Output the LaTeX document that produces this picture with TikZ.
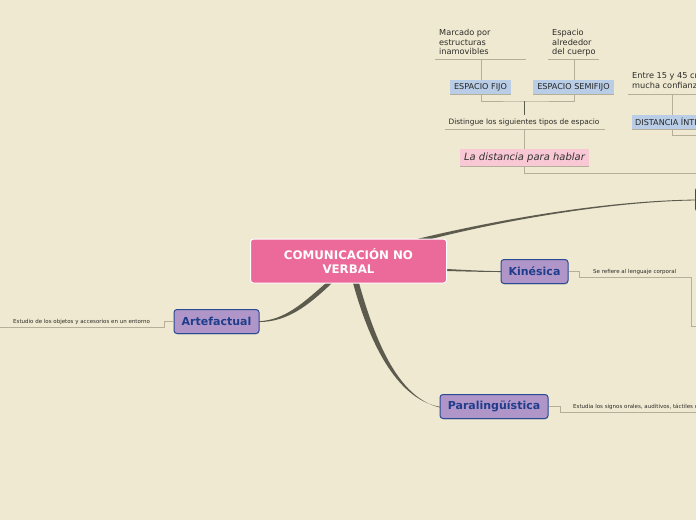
\documentclass[tikz,border=0pt]{standalone}
\usepackage{fontspec}
\setmainfont{DejaVu Sans}
\usetikzlibrary{shadows}
\definecolor{bgc}{HTML}{EFE9D1}
\definecolor{mainc}{HTML}{EB6A99}
\definecolor{topicc}{HTML}{B096C8}
\definecolor{topicb}{HTML}{2A4A96}
\definecolor{topict}{HTML}{1F3D8C}
\definecolor{linkc}{HTML}{5C5B4E}
\definecolor{thinc}{HTML}{B5AF9A}
\definecolor{txtc}{HTML}{2C2C28}
\definecolor{blueb}{HTML}{B9CDE6}
\definecolor{pinkb}{HTML}{F8C8D4}
\tikzset{
  mainbox/.style={draw=white,line width=1pt,fill=mainc,rounded corners=3pt,text=white,align=center,inner sep=0pt,minimum width=196pt,minimum height=44pt,font=\fontsize{11.8}{14.2}\selectfont\bfseries},
  topic/.style={draw=topicb,line width=1pt,fill=topicc,rounded corners=3pt,text=topict,inner sep=0pt,minimum height=24pt,font=\fontsize{11}{13}\selectfont\bfseries,drop shadow={shadow xshift=0.5pt,shadow yshift=-1pt,opacity=.25}},
  bluebox/.style={fill=blueb,text=black!85,inner sep=0pt,minimum height=14pt,font=\fontsize{8.1}{9}\selectfont},
  pinkbox/.style={fill=pinkb,text=black!80,inner sep=0pt,minimum width=129pt,minimum height=17pt,font=\fontsize{10}{12}\selectfont\itshape},
  note/.style={text=txtc,inner sep=0pt,align=left,font=\fontsize{8.2}{9.6}\selectfont},
  tiny/.style={text=txtc,inner sep=0pt,font=\fontsize{5.5}{7}\selectfont},
  midtxt/.style={text=txtc,inner sep=0pt,font=\fontsize{7.4}{9}\selectfont},
  thin link/.style={draw=thinc,line width=1pt},
  under/.style={draw=thinc,line width=1pt},
  boxline/.style={draw=thinc,line width=.7pt},
  taper/.style={fill=linkc,draw=none}
}
\begin{document}
\begin{tikzpicture}[x=1pt,y=-1pt]
\useasboundingbox (0,0) rectangle (696,520);
\clip (0,0) rectangle (696,520);
\fill[bgc] (0,0) rectangle (696,520);

% tapered main links
\coordinate (u1) at (417,239);
\coordinate (u2) at (696,199.6);
\coordinate (u3) at (696,200.4);
\coordinate (u4) at (431,239);
\fill[taper] (u1) .. controls (505,218) and (610,200.5) .. (u2) -- (u3) .. controls (615,201.5) and (510,219) .. (u4) -- cycle;
\coordinate (k1) at (447,269);
\coordinate (k2) at (501,271.2);
\coordinate (k3) at (501,272);
\coordinate (k4) at (447,271);
\fill[taper] (k1) .. controls (465,270) and (485,271) .. (k2) -- (k3) .. controls (485,272) and (465,271.5) .. (k4) -- cycle;
\coordinate (a1) at (326,283);
\coordinate (a2) at (259,321.2);
\coordinate (a3) at (259,322);
\coordinate (a4) at (332,283);
\fill[taper] (a1) .. controls (303,303) and (285,320) .. (a2) -- (a3) .. controls (287,322) and (308,306) .. (a4) -- cycle;
\coordinate (p1) at (353,283);
\coordinate (p2) at (440,406.8);
\coordinate (p3) at (440,407.5);
\coordinate (p4) at (359,283);
\fill[taper] (p1) .. controls (368,338) and (395,399) .. (p2) -- (p3) .. controls (398,398) and (375,340) .. (p4) -- cycle;

% nodes
\node[mainbox] (main) at (348.5,261) {COMUNICACIÓN NO\\VERBAL};
\node[topic,minimum width=67pt] (kin) at (534.5,271.5) {\raisebox{-1.4pt}{Kinésica}};
\node[topic,minimum width=85pt] (art) at (216.5,321.5) {\raisebox{-1.2pt}{Artefactual}};
\node[topic,minimum width=108pt] (par) at (494,406.5) {\raisebox{-1.4pt}{Paralingüística}};
\node[topic,minimum width=20pt,anchor=west] (top) at (695,199.5) {};

\node[tiny,anchor=west] (kintxt) at (593,271.6) {Se refiere al lenguaje corporal};
\node[tiny,anchor=west] (arttxt) at (13,321.6) {Estudio de los objetos y accesorios en un entorno};
\node[tiny,anchor=west] (partxt) at (573,406.6) {Estudia los signos orales, auditivos, táctiles o visuales};

\coordinate (kinbend) at (579,277);
\coordinate (kincorner) at (691,277);
\coordinate (kinend) at (696,326);
\draw[thin link] (kin.east) -- (579,271.5) -- (kinbend) -- (kincorner) |- (kinend);
\coordinate (artend) at (0,327);
\draw[thin link] (art.west) -- (164,321.5) |- (artend);
\coordinate (parend) at (696,412);
\draw[thin link] (par.east) -- (560,406.5) |- (parend);

% upper branch
\node[note,anchor=north west] (marc) at (439,29.3) {Marcado por\\estructuras\\inamovibles};
\node[note,anchor=north west] (espa) at (552,29.3) {Espacio\\alrededor\\del cuerpo};
\node[note,anchor=north west] (entre) at (632,72.8) {Entre 15 y 45 cm\\mucha confianza};
\coordinate (marcL) at (435,59); \coordinate (marcR) at (526,59);
\coordinate (espaL) at (548,59); \coordinate (espaR) at (599,59);
\coordinate (entreL) at (628,94); \coordinate (entreR) at (696,94);
\draw[under] (marcL) -- (marcR);
\draw[under] (espaL) -- (espaR);
\draw[under] (entreL) -- (entreR);

\node[bluebox,minimum width=61pt] (fijo) at (480.5,87) {\raisebox{-.8pt}{ESPACIO FIJO}};
\node[bluebox,minimum width=81pt] (semi) at (573.5,87) {\raisebox{-.8pt}{ESPACIO SEMIFIJO}};
\node[bluebox,minimum width=80pt,anchor=west] (inti) at (632,122) {DISTANCIA ÍNTIMA};
\node[midtxt] (dist) at (524,122.8) {Distingue los siguientes tipos de espacio};
\coordinate (distL) at (445,129); \coordinate (distR) at (605,129);
\draw[under] (distL) -- (distR);
\node[pinkbox] (habl) at (524.5,157.5) {\raisebox{-.6pt}{La distancia para hablar}};

\draw[boxline] (fijo.south west) -- (fijo.south east);
\draw[boxline] (semi.south west) -- (semi.south east);
\draw[boxline] (habl.south west) -- (habl.south east);
\draw[boxline] (inti.south west) -- (inti.south east);

\coordinate (m1) at (481,59);
\coordinate (s1) at (574,59);
\coordinate (e1) at (672.5,94);
\coordinate (d1) at (524.5,129);
\coordinate (j) at (524.5,101);
\coordinate (stemend) at (524.5,115);
\coordinate (hablend) at (696,173);
\coordinate (intiend) at (696,135);
\draw[thin link] (m1) -- (fijo.north -| m1);
\draw[thin link] (s1) -- (semi.north -| s1);
\draw[thin link] (fijo.south -| m1) |- (j) -| (semi.south -| s1);
\draw[linkc,line width=.7pt] (j) -- (stemend);
\draw[thin link] (d1) -- (habl.north);
\draw[thin link] (habl.south) |- (hablend);
\draw[thin link] (e1) -- (inti.north -| e1);
\draw[thin link] (inti.south -| e1) |- (intiend);
\end{tikzpicture}
\end{document}
